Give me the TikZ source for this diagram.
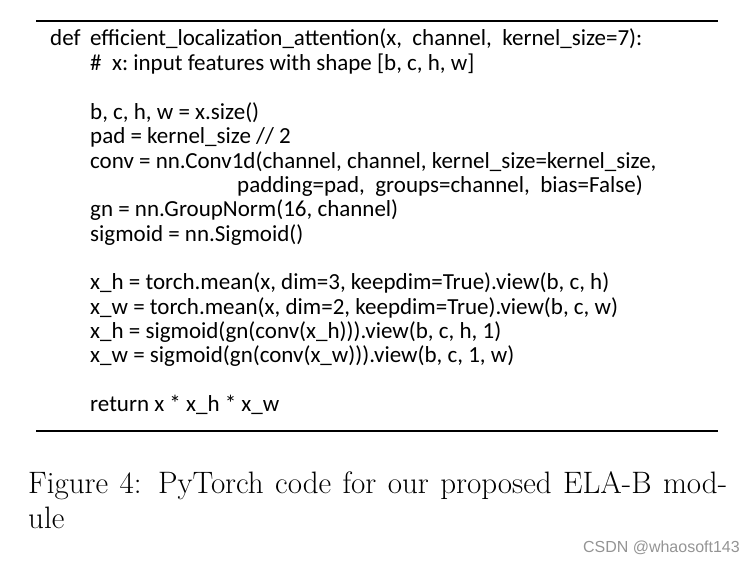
\documentclass[tikz,border=0pt]{standalone}
\usepackage{fontspec}
\setmainfont{Latin Modern Roman}
\newfontfamily\codefont{Carlito}
\newfontfamily\markfont{Liberation Sans}
\usetikzlibrary{positioning}
\tikzset{code/.style={anchor=base west,inner sep=0pt,font=\codefont\fontsize{23}{24}\selectfont\frenchspacing}}
\tikzset{rule/.style={line width=2pt}}
\tikzset{capt/.style={anchor=base west,inner sep=0pt,font=\fontsize{31}{35}\selectfont}}

\begin{document}
\begin{tikzpicture}[x=1pt,y=-1pt]
\useasboundingbox (0,0) rectangle (755,562);
\coordinate (tl) at (36,20.5);
\coordinate (tr) at (718,20.5);
\coordinate (bl) at (36,430.5);
\coordinate (br) at (718,430.5);
\draw[rule] (tl) -- (tr);
\draw[rule] (bl) -- (br);

\node[code] (def) at (50,45) {def};
\node[code] (l1) at (90,45) {efficient\_localization\_attention(x,\ \ channel,\ \ kernel\_size=7):};
\node[code] (l2) at (90,70) {\#\ \ x: input features with shape [b, c, h, w]};
\node[code] (l3) at (90,119) {b, c, h, w = x.size()};
\node[code] (l4) at (90,143.5) {pad = kernel\_size // 2};
\node[code] (l5) at (90,168) {conv = nn.Conv1d(channel, channel, kernel\_size=kernel\_size,};
\node[code] (l6) at (237,192) {padding=pad,\ \ groups=channel,\ \ bias=False)};
\node[code] (l7) at (90,216.5) {gn = nn.GroupNorm(16, channel)};
\node[code] (l8) at (90,241) {sigmoid = nn.Sigmoid()};
\node[code] (l9) at (90,289.5) {x\_h = torch.mean(x, dim=3, keepdim=True).view(b, c, h)};
\node[code] (l10) at (90,314) {x\_w = torch.mean(x, dim=2, keepdim=True).view(b, c, w)};
\node[code] (l11) at (90,338) {x\_h = sigmoid(gn(conv(x\_h))).view(b, c, h, 1)};
\node[code] (l12) at (90,362.5) {x\_w = sigmoid(gn(conv(x\_w))).view(b, c, 1, w)};
\node[code] (ret) at (90,411) {return x * x\_h * x\_w};

% caption under the listing
\node[capt] (cap) at (28,493) {\makebox[699pt][s]{Figure 4: PyTorch code for our proposed ELA-B mod-}};
\node[capt] (cap2) at (28,528) {ule};

\node[anchor=base east,inner sep=0pt,text=black!42,font=\markfont\fontsize{16}{18}\selectfont] (mark) at (740,552) {CSDN @whaosoft143};
\end{tikzpicture}
\end{document}
